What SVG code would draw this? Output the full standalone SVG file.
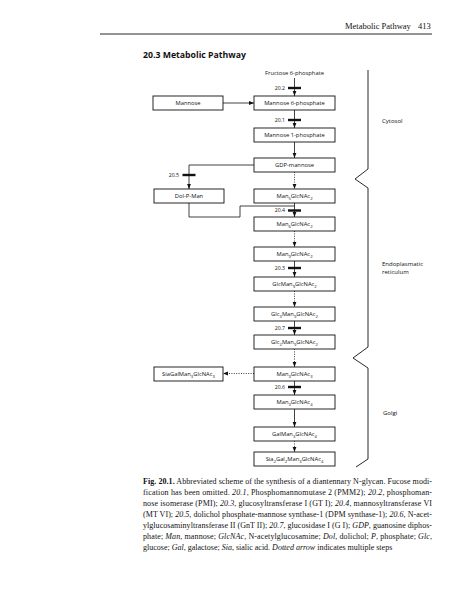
<svg xmlns="http://www.w3.org/2000/svg" width="474" height="593" viewBox="0 0 474 593">
<defs>
<marker id="ah" markerUnits="userSpaceOnUse" markerWidth="5" markerHeight="5" viewBox="0 0 5 5" refX="5" refY="2.5" orient="auto">
<path d="M0,0.6 L5,2.5 L0,4.4 Z" fill="#111"/>
</marker>
</defs>
<style>
.box{fill:#fff;stroke:#111;stroke-width:0.9}
.bt{font-family:"Open Sans","Liberation Sans",sans-serif;font-size:5.8px;fill:#111;text-anchor:middle}
.sub{font-size:4.2px}
.ln{fill:none;stroke:#111;stroke-width:0.8}
.dot{fill:none;stroke:#111;stroke-width:0.8;stroke-dasharray:1 1.4}
.tick{stroke:#111;stroke-width:2.4}
.tl{font-family:"Open Sans","Liberation Sans",sans-serif;font-size:5.2px;fill:#111;text-anchor:end}
.br{fill:none;stroke:#111;stroke-width:0.9}
.rl{font-family:"Open Sans","Liberation Sans",sans-serif;font-size:6px;fill:#111}
.cap{font-family:"Liberation Serif",serif;font-size:8px;fill:#111}
</style>
<rect width="474" height="593" fill="#fff"/>
<g id="header">
<text x="345" y="29" font-family="Liberation Serif,serif" font-size="8.5" fill="#111">Metabolic Pathway</text>
<text x="418" y="29" font-family="Liberation Serif,serif" font-size="8.5" fill="#111">413</text>
<line x1="100" y1="34" x2="432" y2="34" stroke="#111" stroke-width="0.9"/>
<text x="143" y="58" font-family="Open Sans,Liberation Sans,sans-serif" font-size="9.5" font-weight="bold" fill="#111" textLength="103" lengthAdjust="spacingAndGlyphs">20.3  Metabolic Pathway</text>
</g>
<g id="connectors">
<text class="bt" x="294.5" y="75">Fructose 6-phosphate</text>
<line class="ln" x1="294.5" y1="78" x2="294.5" y2="96" marker-end="url(#ah)"/>
<line class="ln" x1="223" y1="103" x2="254" y2="103" marker-end="url(#ah)"/>
<line class="ln" x1="294.5" y1="110" x2="294.5" y2="128" marker-end="url(#ah)"/>
<line class="ln" x1="294.5" y1="142" x2="294.5" y2="158" marker-end="url(#ah)"/>
<line class="dot" x1="294.5" y1="172" x2="294.5" y2="189" marker-end="url(#ah)"/>
<polyline class="ln" points="254,165 189,165 189,189" marker-end="url(#ah)"/>
<polyline class="ln" points="189,203 189,217 240,217 240,206 294.5,206"/>
<line class="ln" x1="294.5" y1="203" x2="294.5" y2="217" marker-end="url(#ah)"/>
<line class="dot" x1="294.5" y1="231" x2="294.5" y2="247" marker-end="url(#ah)"/>
<line class="ln" x1="294.5" y1="261" x2="294.5" y2="277" marker-end="url(#ah)"/>
<line class="dot" x1="294.5" y1="291" x2="294.5" y2="307" marker-end="url(#ah)"/>
<line class="ln" x1="294.5" y1="321" x2="294.5" y2="335" marker-end="url(#ah)"/>
<line class="dot" x1="294.5" y1="349" x2="294.5" y2="367" marker-end="url(#ah)"/>
<line class="dot" x1="254" y1="373.5" x2="223" y2="373.5" marker-end="url(#ah)"/>
<line class="ln" x1="294.5" y1="381" x2="294.5" y2="395" marker-end="url(#ah)"/>
<line class="ln" x1="294.5" y1="409" x2="294.5" y2="427" marker-end="url(#ah)"/>
<line class="dot" x1="294.5" y1="441" x2="294.5" y2="452" marker-end="url(#ah)"/>
<line class="tick" x1="288" y1="88" x2="301" y2="88"/><text class="tl" x="285" y="89.8">20.2</text>
<line class="tick" x1="288" y1="120" x2="301" y2="120"/><text class="tl" x="285" y="121.8">20.1</text>
<line class="tick" x1="182.5" y1="175" x2="195.5" y2="175"/><text class="tl" x="179" y="176.8">20.5</text>
<line class="tick" x1="288" y1="210.5" x2="301" y2="210.5"/><text class="tl" x="285" y="212.3">20.4</text>
<line class="tick" x1="288" y1="268" x2="301" y2="268"/><text class="tl" x="285" y="269.8">20.3</text>
<line class="tick" x1="288" y1="328" x2="301" y2="328"/><text class="tl" x="285" y="329.8">20.7</text>
<line class="tick" x1="288" y1="387" x2="301" y2="387"/><text class="tl" x="285" y="388.8">20.6</text>
</g>
<g id="n-mannose"><rect class="box" x="153" y="96" width="70" height="14"/><text class="bt" x="188" y="105.2">Mannose</text></g>
<g id="n-m6p"><rect class="box" x="254" y="96" width="81" height="14"/><text class="bt" x="294.5" y="105.2">Mannose 6-phosphate</text></g>
<g id="n-m1p"><rect class="box" x="254" y="128" width="81" height="14"/><text class="bt" x="294.5" y="137.2">Mannose 1-phosphate</text></g>
<g id="n-gdp"><rect class="box" x="254" y="158" width="81" height="14"/><text class="bt" x="294.5" y="167.2">GDP-mannose</text></g>
<g id="n-dolpman"><rect class="box" x="154" y="189" width="70" height="14"/><text class="bt" x="189" y="198.2">Dol-P-Man</text></g>
<g id="n-man5"><rect class="box" x="254" y="189" width="81" height="14"/><text class="bt" x="294.5" y="198.2">Man<tspan class="sub" dy="1.3">5</tspan><tspan dy="-1.3">GlcNAc</tspan><tspan class="sub" dy="1.3">2</tspan></text></g>
<g id="n-man6"><rect class="box" x="254" y="217" width="81" height="14"/><text class="bt" x="294.5" y="226.2">Man<tspan class="sub" dy="1.3">6</tspan><tspan dy="-1.3">GlcNAc</tspan><tspan class="sub" dy="1.3">2</tspan></text></g>
<g id="n-man9"><rect class="box" x="254" y="247" width="81" height="14"/><text class="bt" x="294.5" y="256.2">Man<tspan class="sub" dy="1.3">9</tspan><tspan dy="-1.3">GlcNAc</tspan><tspan class="sub" dy="1.3">2</tspan></text></g>
<g id="n-glcman9"><rect class="box" x="254" y="277" width="81" height="14"/><text class="bt" x="294.5" y="286.2">GlcMan<tspan class="sub" dy="1.3">9</tspan><tspan dy="-1.3">GlcNAc</tspan><tspan class="sub" dy="1.3">2</tspan></text></g>
<g id="n-glc3man9"><rect class="box" x="254" y="307" width="81" height="14"/><text class="bt" x="294.5" y="316.2">Glc<tspan class="sub" dy="1.3">3</tspan><tspan dy="-1.3">Man</tspan><tspan class="sub" dy="1.3">9</tspan><tspan dy="-1.3">GlcNAc</tspan><tspan class="sub" dy="1.3">2</tspan></text></g>
<g id="n-glc2man9"><rect class="box" x="254" y="335" width="81" height="14"/><text class="bt" x="294.5" y="344.2">Glc<tspan class="sub" dy="1.3">2</tspan><tspan dy="-1.3">Man</tspan><tspan class="sub" dy="1.3">9</tspan><tspan dy="-1.3">GlcNAc</tspan><tspan class="sub" dy="1.3">2</tspan></text></g>
<g id="n-man3glcnac3"><rect class="box" x="254" y="367" width="81" height="14"/><text class="bt" x="294.5" y="376.2">Man<tspan class="sub" dy="1.3">3</tspan><tspan dy="-1.3">GlcNAc</tspan><tspan class="sub" dy="1.3">3</tspan></text></g>
<g id="n-siagal"><rect class="box" x="154" y="367" width="69" height="14"/><text class="bt" x="188.5" y="376.2">SiaGalMan<tspan class="sub" dy="1.3">3</tspan><tspan dy="-1.3">GlcNAc</tspan><tspan class="sub" dy="1.3">3</tspan></text></g>
<g id="n-man3glcnac4"><rect class="box" x="254" y="395" width="81" height="14"/><text class="bt" x="294.5" y="404.2">Man<tspan class="sub" dy="1.3">3</tspan><tspan dy="-1.3">GlcNAc</tspan><tspan class="sub" dy="1.3">4</tspan></text></g>
<g id="n-galman3"><rect class="box" x="254" y="427" width="81" height="14"/><text class="bt" x="294.5" y="436.2">GalMan<tspan class="sub" dy="1.3">3</tspan><tspan dy="-1.3">GlcNAc</tspan><tspan class="sub" dy="1.3">4</tspan></text></g>
<g id="n-sia2gal2"><rect class="box" x="254" y="452" width="81" height="14"/><text class="bt" x="294.5" y="461.2">Sia<tspan class="sub" dy="1.3">2</tspan><tspan dy="-1.3">Gal</tspan><tspan class="sub" dy="1.3">2</tspan><tspan dy="-1.3">Man</tspan><tspan class="sub" dy="1.3">3</tspan><tspan dy="-1.3">GlcNAc</tspan><tspan class="sub" dy="1.3">4</tspan></text></g>
<g id="compartments">
<polyline class="br" points="368,70 368,169 355,179 368,188 368,347 353,358 368,368 368,459 356,467"/>
<text class="rl" x="382" y="123">Cytosol</text>
<text class="rl" x="382" y="266">Endoplasmatic</text>
<text class="rl" x="382" y="273.5">reticulum</text>
<text class="rl" x="383" y="415">Golgi</text>
</g>
<g id="caption">
<text class="cap" x="143" y="484" textLength="289" lengthAdjust="spacing"><tspan font-weight="bold">Fig. 20.1.</tspan> Abbreviated scheme of the synthesis of a diantennary N-glycan. Fucose modi-</text>
<text class="cap" x="143" y="495" textLength="289" lengthAdjust="spacing">fication has been omitted. <tspan font-style="italic">20.1</tspan>, Phosphomannomutase 2 (PMM2); <tspan font-style="italic">20.2</tspan>, phosphoman-</text>
<text class="cap" x="143" y="506" textLength="289" lengthAdjust="spacing">nose isomerase (PMI); <tspan font-style="italic">20.3</tspan>, glucosyltransferase I (GT I); <tspan font-style="italic">20.4</tspan>, mannosyltransferase VI</text>
<text class="cap" x="143" y="517" textLength="289" lengthAdjust="spacing">(MT VI); <tspan font-style="italic">20.5</tspan>, dolichol phosphate-mannose synthase-1 (DPM synthase-1); <tspan font-style="italic">20.6</tspan>, N-acet-</text>
<text class="cap" x="143" y="528" textLength="289" lengthAdjust="spacing">ylglucosaminyltransferase II (GnT II); <tspan font-style="italic">20.7</tspan>, glucosidase I (G I); <tspan font-style="italic">GDP</tspan>, guanosine diphos-</text>
<text class="cap" x="143" y="539" textLength="289" lengthAdjust="spacing">phate; <tspan font-style="italic">Man</tspan>, mannose; <tspan font-style="italic">GlcNAc</tspan>, N-acetylglucosamine; <tspan font-style="italic">Dol</tspan>, dolichol; <tspan font-style="italic">P</tspan>, phosphate; <tspan font-style="italic">Glc</tspan>,</text>
<text class="cap" x="143" y="550">glucose; <tspan font-style="italic">Gal</tspan>, galactose; <tspan font-style="italic">Sia</tspan>, sialic acid. <tspan font-style="italic">Dotted arrow</tspan> indicates multiple steps</text>
</g>
</svg>
